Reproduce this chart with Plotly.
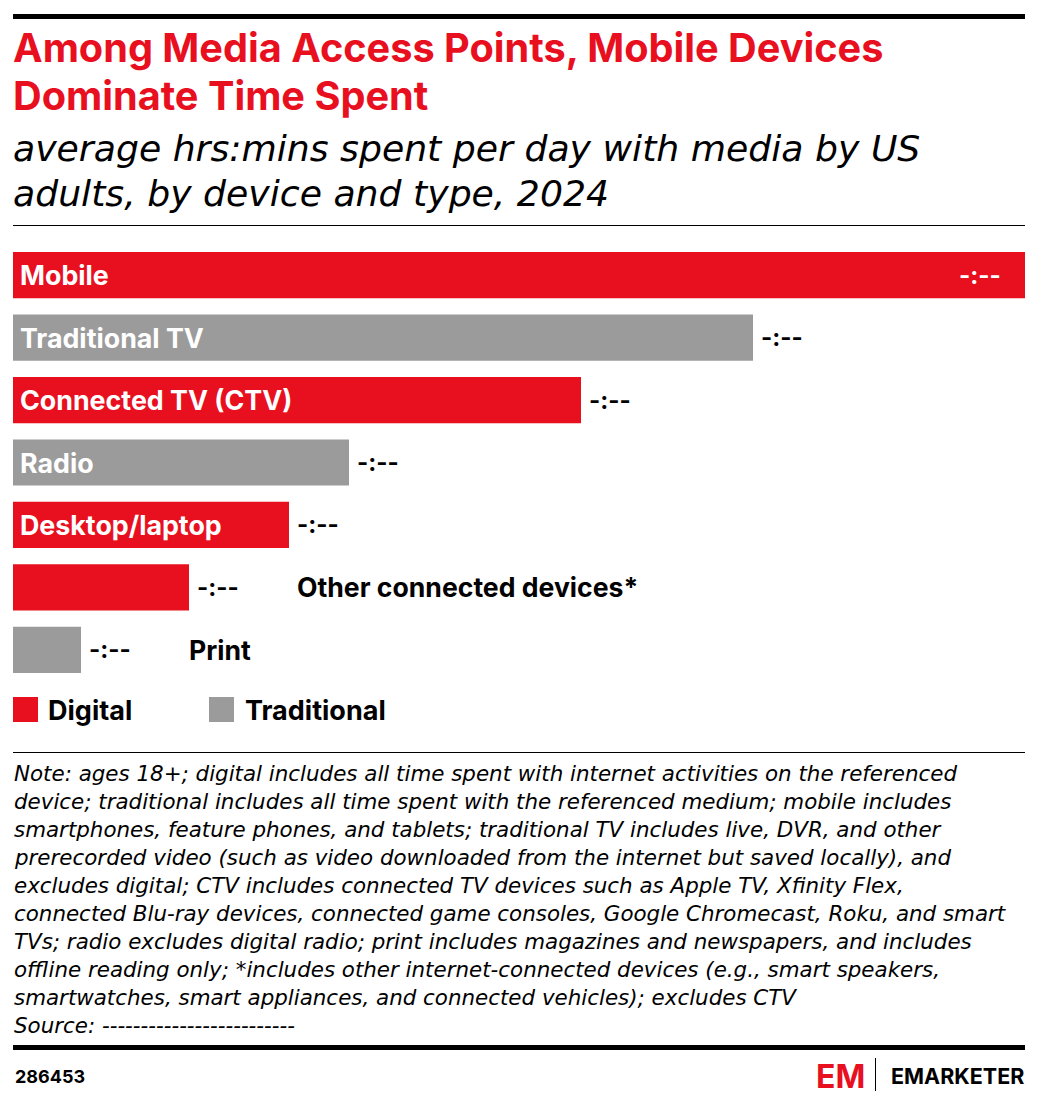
import plotly.graph_objects as go

# ---- data ----
categories = ["Mobile", "Traditional TV", "Connected TV (CTV)", "Radio",
              "Desktop/laptop", "Other connected devices*", "Print"]
minutes = [253, 185, 142, 84, 69, 44, 17]
media_type = ["Digital", "Traditional", "Digital", "Traditional",
              "Digital", "Digital", "Traditional"]
value_labels = ["-:--"] * 7
label_inside = [True, True, True, True, True, False, False]

RED = "#E8101F"
GREY = "#9B9B9B"
colors = {"Digital": RED, "Traditional": GREY}

W, H = 1038, 1105
ML, MR, MT, MB = 13, 13, 244, 424
PW = W - ML - MR
PH = H - MT - MB

def px(x):
    return (x - ML) / PW

def py(y):
    return (H - MB - y) / PH

BOLD = "Inter"
ITAL = "DejaVu Sans"

fig = go.Figure()
fig.add_trace(go.Bar(
    y=categories, x=minutes, orientation="h",
    marker=dict(color=[colors[t] for t in media_type], line=dict(width=0)),
    width=0.74, showlegend=False, hoverinfo="skip",
))

ann = []
# category + value labels
for i, (c, v, lab, ins) in enumerate(zip(categories, minutes, value_labels, label_inside)):
    if i == 0:
        ann.append(dict(x=v, y=c, xref="x", yref="y", text="<b>" + lab + "</b>",
                        xanchor="right", xshift=-22, showarrow=False,
                        font=dict(family=BOLD, size=24, color="white")))
    else:
        ann.append(dict(x=v, y=c, xref="x", yref="y", text="<b>" + lab + "</b>",
                        xanchor="left", xshift=6, showarrow=False,
                        font=dict(family=BOLD, size=24, color="black")))
    if ins:
        ann.append(dict(x=0, y=c, xref="x", yref="y", text="<b>" + c + "</b>",
                        xanchor="left", xshift=5, showarrow=False,
                        font=dict(family=BOLD, size=26.8, color="white")))
    else:
        ann.append(dict(x=v, y=c, xref="x", yref="y", text="<b>" + c + "</b>",
                        xanchor="left", xshift=106, showarrow=False,
                        font=dict(family=BOLD, size=26.6, color="black")))

# title / subtitle
for txt, y in [("Among Media Access Points, Mobile Devices", 48),
               ("Dominate Time Spent", 96)]:
    ann.append(dict(x=px(11), y=py(y), xref="paper", yref="paper", text="<b>" + txt + "</b>",
                    xanchor="left", yanchor="middle", showarrow=False,
                    font=dict(family=BOLD, size=39.7, color=RED)))
for txt, y in [("average hrs:mins spent per day with media by US", 148),
               ("adults, by device and type, 2024", 194)]:
    ann.append(dict(x=px(11), y=py(y), xref="paper", yref="paper", text="<i>" + txt + "</i>",
                    xanchor="left", yanchor="middle", showarrow=False,
                    font=dict(family=ITAL, size=36.2, color="black")))

# legend
shapes = []
for name, x0, xt in [("Digital", 13, 46), ("Traditional", 209, 243)]:
    shapes.append(dict(type="rect", xref="paper", yref="paper",
                       x0=px(x0), x1=px(x0 + 25), y0=py(722), y1=py(697),
                       fillcolor=colors[name], line=dict(width=0)))
    ann.append(dict(x=px(xt), y=py(710), xref="paper", yref="paper", text="<b>" + name + "</b>",
                    xanchor="left", yanchor="middle", showarrow=False,
                    font=dict(family=BOLD, size=27, color="black")))

# notes
notes = [
    "Note: ages 18+; digital includes all time spent with internet activities on the referenced",
    "device; traditional includes all time spent with the referenced medium; mobile includes",
    "smartphones, feature phones, and tablets; traditional TV includes live, DVR, and other",
    "prerecorded video (such as video downloaded from the internet but saved locally), and",
    "excludes digital; CTV includes connected TV devices such as Apple TV, Xfinity Flex,",
    "connected Blu-ray devices, connected game consoles, Google Chromecast, Roku, and smart",
    "TVs; radio excludes digital radio; print includes magazines and newspapers, and includes",
    "offline reading only; *includes other internet-connected devices (e.g., smart speakers,",
    "smartwatches, smart appliances, and connected vehicles); excludes CTV",
    "Source: -------------------------",
]
for k, line in enumerate(notes):
    ann.append(dict(x=px(12), y=py(773 + 28.1 * k), xref="paper", yref="paper",
                    text="<i>" + line + "</i>", xanchor="left", yanchor="middle",
                    showarrow=False, font=dict(family=ITAL, size=21.4, color="black")))

# footer
ann.append(dict(x=px(13), y=py(1076), xref="paper", yref="paper", text="<b>286453</b>",
                xanchor="left", yanchor="middle", showarrow=False,
                font=dict(family=BOLD, size=18, color="black")))
ann.append(dict(x=px(867), y=py(1076), xref="paper", yref="paper", text="<b>EM</b>",
                xanchor="right", yanchor="middle", showarrow=False,
                font=dict(family=BOLD, size=32, color=RED)))
ann.append(dict(x=px(1026), y=py(1076), xref="paper", yref="paper", text="<b>EMARKETER</b>",
                xanchor="right", yanchor="middle", showarrow=False,
                font=dict(family=BOLD, size=21.5, color="black")))

# rules
shapes += [
    dict(type="line", xref="paper", yref="paper", x0=px(13), x1=px(1025), y0=py(16.5), y1=py(16.5),
         line=dict(color="black", width=5)),
    dict(type="line", xref="paper", yref="paper", x0=px(13), x1=px(1025), y0=py(225.5), y1=py(225.5),
         line=dict(color="black", width=1)),
    dict(type="line", xref="paper", yref="paper", x0=px(13), x1=px(1025), y0=py(752.5), y1=py(752.5),
         line=dict(color="black", width=1)),
    dict(type="line", xref="paper", yref="paper", x0=px(13), x1=px(1025), y0=py(1047.5), y1=py(1047.5),
         line=dict(color="black", width=5)),
    dict(type="line", xref="paper", yref="paper", x0=px(875.5), x1=px(875.5), y0=py(1058), y1=py(1091),
         line=dict(color="black", width=1)),
]

fig.update_layout(
    width=W, height=H,
    margin=dict(l=ML, r=MR, t=MT, b=MB),
    paper_bgcolor="white", plot_bgcolor="white",
    xaxis=dict(range=[0, minutes[0]], visible=False, fixedrange=True),
    yaxis=dict(categoryorder="array", categoryarray=categories, autorange="reversed",
               range=[6.5, -0.5], visible=False, fixedrange=True),
    bargap=0.26,
    annotations=ann, shapes=shapes,
)

fig.write_html("out.html", config={"displayModeBar": False},
               post_script="document.body.style.margin='0';")
